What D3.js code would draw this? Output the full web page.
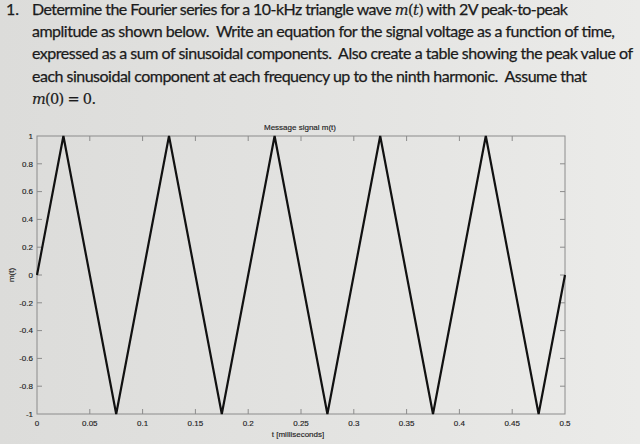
<!DOCTYPE html>
<html lang="en">
<head>
    <meta charset="UTF-8">
    <title>Message signal m(t)</title>
    <script src="https://d3js.org/d3.v7.min.js"></script>
    <style>
        html, body {
            margin: 0;
            padding: 0;
            width: 640px;
            height: 444px;
            overflow: hidden;
            background: linear-gradient(90deg, #dcdcda 0%, #e2e2e0 45%, #ebebe9 100%);
        }
        .question {
            font-family: Lato, "Open Sans", sans-serif;
            font-size: 16px;
            fill: #1b1b1b;
            stroke: #1b1b1b;
            stroke-width: 0.25px;
            white-space: pre;
        }
        .math {
            font-family: "DejaVu Serif", "Liberation Serif", serif;
            font-size: 14.5px;
            stroke-width: 0.2px;
        }
        .axis-text {
            font-family: "Liberation Sans", Arial, sans-serif;
            font-size: 8px;
            fill: #1e1e1e;
            stroke: #1e1e1e;
            stroke-width: 0.15px;
        }
    </style>
</head>
<body>
<script>
    // question text, one line per row; math parts flagged
    const questionLines = [
        [{ t: "Determine the Fourier series for a 10-kHz triangle wave " }, { t: "m", m: "i" }, { t: "(", m: "u" }, { t: "t", m: "i" }, { t: ")", m: "u" }, { t: " with 2V peak-to-peak" }],
        [{ t: "amplitude as shown below.  Write an equation for the signal voltage as a function of time," }],
        [{ t: "expressed as a sum of sinusoidal components.  Also create a table showing the peak value of" }],
        [{ t: "each sinusoidal component at each frequency up to the ninth harmonic.  Assume that" }],
        [{ t: "m", m: "i" }, { t: "(0) = 0.", m: "u" }]
    ];
    const lineEnds = [568, 615, 633, 587, 96];

    // triangle wave vertices
    const tPoints = [0, 0.025, 0.075, 0.125, 0.175, 0.225, 0.275, 0.325, 0.375, 0.425, 0.475, 0.5];
    const mValues = [0, 1, -1, 1, -1, 1, -1, 1, -1, 1, -1, 0];

    const xTicks = [0, 0.05, 0.1, 0.15, 0.2, 0.25, 0.3, 0.35, 0.4, 0.45, 0.5];
    const xTickLabels = ["0", "0.05", "0.1", "0.15", "0.2", "0.25", "0.3", "0.35", "0.4", "0.45", "0.5"];
    const yTicks = [-1, -0.8, -0.6, -0.4, -0.2, 0, 0.2, 0.4, 0.6, 0.8, 1];
    const yTickLabels = ["-1", "-0.8", "-0.6", "-0.4", "-0.2", "0", "0.2", "0.4", "0.6", "0.8", "1"];

    const width = 640, height = 444;
    const svg = d3.select("body").append("svg")
        .attr("width", width)
        .attr("height", height);

    // ---- question text ----
    svg.append("text")
        .attr("class", "question")
        .attr("x", 6)
        .attr("y", 15)
        .text("1.");

    questionLines.forEach((parts, i) => {
        const txt = svg.append("text")
            .attr("class", "question")
            .attr("x", 32)
            .attr("y", 15 + i * 22.2)
            .attr("textLength", lineEnds[i] - 32)
            .attr("lengthAdjust", "spacing");
        parts.forEach(p => {
            const ts = txt.append("tspan").text(p.t);
            if (p.m) {
                ts.attr("class", "math")
                  .style("font-style", p.m === "i" ? "italic" : "normal");
            }
        });
    });

    // ---- chart ----
    const x = d3.scaleLinear().domain([0, 0.5]).range([37, 565]);
    const y = d3.scaleLinear().domain([-1, 1]).range([414, 136]);
    const tickLen = 5;
    const boxColor = "#8c8c8c";

    const chart = svg.append("g");

    chart.append("rect")
        .attr("x", x(0))
        .attr("y", y(1))
        .attr("width", x(0.5) - x(0))
        .attr("height", y(-1) - y(1))
        .attr("fill", "none")
        .attr("stroke", boxColor)
        .attr("stroke-width", 1);

    // inward ticks on all four sides
    const xt = xTicks.slice(1, -1);
    chart.selectAll("line.xb").data(xt).enter().append("line")
        .attr("x1", d => x(d)).attr("x2", d => x(d))
        .attr("y1", y(-1)).attr("y2", y(-1) - tickLen)
        .attr("stroke", boxColor);
    chart.selectAll("line.xt").data(xt).enter().append("line")
        .attr("x1", d => x(d)).attr("x2", d => x(d))
        .attr("y1", y(1)).attr("y2", y(1) + tickLen)
        .attr("stroke", boxColor);
    const yt = yTicks.slice(1, -1);
    chart.selectAll("line.yl").data(yt).enter().append("line")
        .attr("x1", x(0)).attr("x2", x(0) + tickLen)
        .attr("y1", d => y(d)).attr("y2", d => y(d))
        .attr("stroke", boxColor);
    chart.selectAll("line.yr").data(yt).enter().append("line")
        .attr("x1", x(0.5)).attr("x2", x(0.5) - tickLen)
        .attr("y1", d => y(d)).attr("y2", d => y(d))
        .attr("stroke", boxColor);

    // tick labels
    chart.selectAll("text.xlab").data(xTicks).enter().append("text")
        .attr("class", "axis-text")
        .attr("x", d => x(d))
        .attr("y", y(-1) + 12)
        .attr("text-anchor", "middle")
        .text((d, i) => xTickLabels[i]);

    chart.selectAll("text.ylab").data(yTicks).enter().append("text")
        .attr("class", "axis-text")
        .attr("x", x(0) - 4)
        .attr("y", d => y(d))
        .attr("dy", "0.35em")
        .attr("text-anchor", "end")
        .text((d, i) => yTickLabels[i]);

    // the triangle wave
    const line = d3.line()
        .x((d, i) => x(tPoints[i]))
        .y(d => y(d));

    chart.append("path")
        .datum(mValues)
        .attr("d", line)
        .attr("fill", "none")
        .attr("stroke", "#111")
        .attr("stroke-width", 2.2)
        .attr("stroke-linejoin", "miter");

    // titles
    chart.append("text")
        .attr("class", "axis-text")
        .attr("x", (x(0) + x(0.5)) / 2 - 1)
        .attr("y", y(1) - 6)
        .attr("text-anchor", "middle")
        .text("Message signal m(t)");

    chart.append("text")
        .attr("class", "axis-text")
        .attr("x", (x(0) + x(0.5)) / 2 - 3)
        .attr("y", y(-1) + 23)
        .attr("text-anchor", "middle")
        .text("t [milliseconds]");

    chart.append("text")
        .attr("class", "axis-text")
        .attr("transform", `translate(14,${y(0)}) rotate(-90)`)
        .attr("text-anchor", "middle")
        .text("m(t)");
</script>
</body>
</html>
